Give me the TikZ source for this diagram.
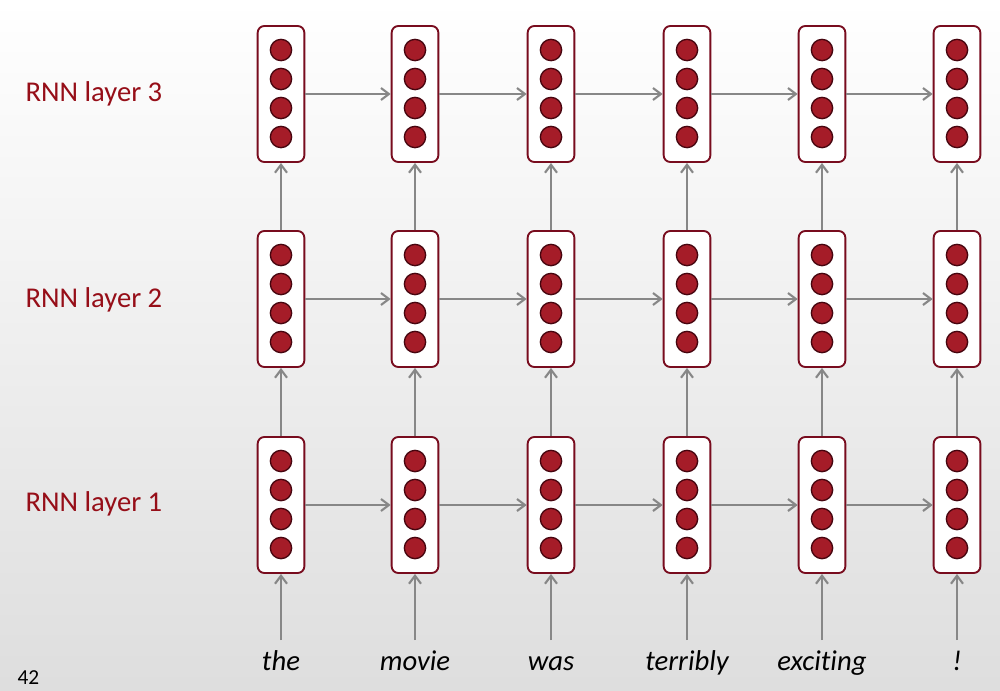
\documentclass[tikz,border=0pt]{standalone}
\usepackage{fontspec}
\setmainfont{Carlito}[Ligatures=NoCommon]
\usetikzlibrary{arrows.meta}
\definecolor{rnnred}{RGB}{165,28,40}
\definecolor{labelred}{RGB}{150,14,24}
\definecolor{rnndark}{RGB}{120,12,30}
\definecolor{unitline}{RGB}{70,5,15}
\definecolor{flowgray}{RGB}{135,135,135}
\tikzset{every picture/.style={line width=0.75pt}}

\begin{document}
\begin{tikzpicture}[x=0.75pt,y=0.75pt,yscale=-1,xscale=1,
  cell/.style={draw=rnndark, fill=white, rounded corners=5pt, line width=1.4pt,
    minimum width=35pt, minimum height=102pt, inner sep=0pt},
  unit/.style={circle, draw=unitline, fill=rnnred, line width=1pt,
    minimum size=16pt, inner sep=0pt},
  flow/.style={draw=flowgray, line width=1.6pt, -{Straight Barb[length=6pt,width=9pt]}},
  layerlabel/.style={text=labelred, font=\fontsize{21.5}{25}\selectfont, anchor=base west, inner sep=0pt},
  word/.style={font=\fontsize{21.5}{25}\selectfont\itshape, anchor=base, inner sep=0pt}]
%set diagram left start at 0, and has height of 690
\useasboundingbox (0,0) rectangle (1000,690);
\shade[top color=white, middle color=white, bottom color=black!13] (0,0) rectangle (1000,690);

%Shape: cells with their units, one column per word
\foreach \x [count=\c] in {281,415,551,687,822,957} {
  \foreach \y/\l in {94/3,299/2,505/1} {
    \node[cell] (h\l\c) at (\x,\y) {};
    \foreach \k/\dy in {1/-44,2/-15,3/14,4/43}
      \node[unit] (h\l\c u\k) at (\x,\y+\dy) {};
  }
  \coordinate (in\c) at (\x,640);
}

%Straight Lines: along each layer
\foreach \l in {1,2,3} {
  \foreach \c [evaluate=\c as \n using int(\c+1)] in {1,...,5}
    \draw[flow] (h\l\c.east) -- (h\l\n.west);
}

%Straight Lines: up between the layers, and from the words
\foreach \c in {1,...,6} {
  \draw[flow] (h1\c.north) -- (h2\c.south);
  \draw[flow] (h2\c.north) -- (h3\c.south);
  \draw[flow] (in\c) -- (h1\c.south);
}

% Text Node
\node[layerlabel] (lab3) at (25,101) {RNN layer 3};
% Text Node
\node[layerlabel] (lab2) at (25,307) {RNN layer 2};
% Text Node
\node[layerlabel] (lab1) at (25,511) {RNN layer 1};

% Text Node
\node[word] (w1) at (281,670) {the};
% Text Node
\node[word] (w2) at (415,670) {movie};
% Text Node
\node[word] (w3) at (551,670) {was};
% Text Node
\node[word] (w4) at (687,670) {terribly};
% Text Node
\node[word] (w5) at (822,670) {exciting};
% Text Node
\node[word] (w6) at (957,670) {!};

% Text Node
\node[anchor=base west, inner sep=0pt, font=\fontsize{16}{19}\selectfont] (page) at (17,684) {42};

\end{tikzpicture}
\end{document}
